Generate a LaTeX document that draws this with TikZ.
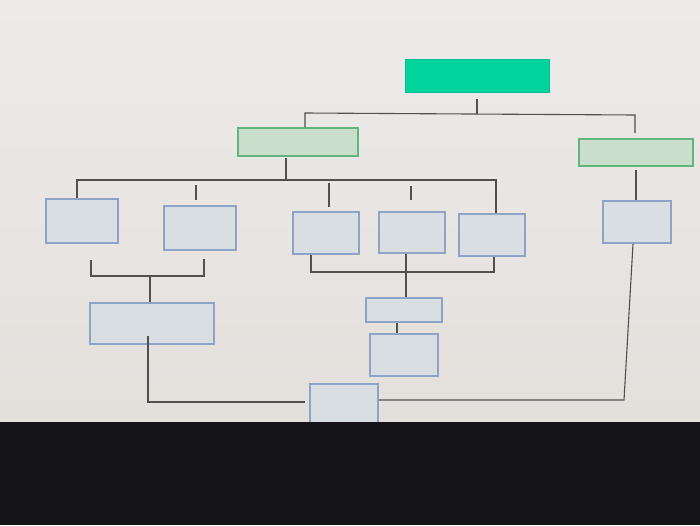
\documentclass[tikz,border=0pt]{standalone}
\usetikzlibrary{shadows}
\begin{document}
\begin{tikzpicture}[x=1pt,y=-1pt,
  box/.style={anchor=north west,inner sep=0pt,line width=1.8pt},
  topbox/.style={box,fill=topgreen,draw=topgreen!92!black,line width=1pt},
  gbox/.style={box,fill=lightgreen,draw=greenedge},
  lbox/.style={box,fill=lightblue,draw=blueedge,
    drop shadow={opacity=0.18,fill=shadowc,shadow xshift=1.5pt,shadow yshift=-1.5pt}},
  conn/.style={draw=linegray,line width=1.1pt}]
\definecolor{topgreen}{HTML}{00D49C}
\definecolor{lightgreen}{HTML}{C9DFCB}
\definecolor{greenedge}{HTML}{62B57C}
\definecolor{lightblue}{HTML}{D8DEE2}
\definecolor{blueedge}{HTML}{8EA3C6}
\definecolor{shadowc}{HTML}{7A6A9A}
\definecolor{linegray}{HTML}{505050}
\definecolor{bgtop}{HTML}{EDEBEA}
\definecolor{bgbot}{HTML}{E3DFDB}
\definecolor{band}{HTML}{141419}
\useasboundingbox (0,0) rectangle (700,525);
\shade[top color=bgtop,bottom color=bgbot] (0,0) rectangle (700,422);
% boxes
\node[topbox,minimum width=144pt,minimum height=33pt] (top) at (405,59) {};
\node[gbox,minimum width=120pt,minimum height=28pt] (g1) at (237,127) {};
\node[gbox,minimum width=114pt,minimum height=27pt] (g2) at (578,138) {};
\node[lbox,minimum width=72pt,minimum height=44pt] (b1) at (45,198) {};
\node[lbox,minimum width=72pt,minimum height=44pt] (b2) at (163,205) {};
\node[lbox,minimum width=66pt,minimum height=42pt] (b3) at (292,211) {};
\node[lbox,minimum width=66pt,minimum height=41pt] (b4) at (378,211) {};
\node[lbox,minimum width=66pt,minimum height=42pt] (b5) at (458,213) {};
\node[lbox,minimum width=68pt,minimum height=42pt] (b6) at (602,200) {};
\node[lbox,minimum width=124pt,minimum height=41pt] (b7) at (89,302) {};
\node[lbox,minimum width=76pt,minimum height=24pt] (b8) at (365,297) {};
\node[lbox,minimum width=68pt,minimum height=42pt] (b9) at (369,333) {};
\node[lbox,minimum width=68pt,minimum height=44pt] (b10) at (309,383) {};
% the dark band cuts the bottom box
\fill[band] (0,422) rectangle (700,525);
% coordinates
\coordinate (t1) at (477,99);
\coordinate (t2) at (477,114);
\coordinate (h1l) at (305,113);
\coordinate (h1r) at (635,115);
\coordinate (g2t) at (635,133);
\coordinate (g1b) at (286,158);
\coordinate (g1h) at (286,180);
\coordinate (h2l) at (77,180);
\coordinate (h2r) at (496,180);
\coordinate (k2a) at (196,185);
\coordinate (k2b) at (196,200);
\coordinate (k3a) at (329,183);
\coordinate (k3b) at (329,207);
\coordinate (k4a) at (411,186);
\coordinate (k4b) at (411,200);
\coordinate (g2b) at (636,170);
\coordinate (bl1) at (91,260);
\coordinate (bl2) at (91,276);
\coordinate (bl3) at (204,276);
\coordinate (bl4) at (204,259);
\coordinate (bm) at (150,276);
\coordinate (br1) at (311,255);
\coordinate (br2) at (311,272);
\coordinate (br3) at (494,272);
\coordinate (br4) at (494,257);
\coordinate (c7) at (148,336);
\coordinate (c7b) at (148,402);
\coordinate (c10l) at (305,402);
\coordinate (c10r) at (624,400);
\coordinate (c6b) at (633,244);
% connectors
\draw[conn] (t1) -- (t2);
\draw[conn] (g1.north -| h1l) -- (h1l) -- (h1r) -- (g2t);
\draw[conn] (g1b) -- (g1h);
\draw[conn] (b1.north -| h2l) -- (h2l) -- (h2r) -- (b5.north -| h2r);
\draw[conn] (k2a) -- (k2b);
\draw[conn] (k3a) -- (k3b);
\draw[conn] (k4a) -- (k4b);
\draw[conn] (g2b) -- (b6.north -| g2b);
\draw[conn] (bl1) -- (bl2) -- (bl3) -- (bl4);
\draw[conn] (bm) -- (b7.north -| bm);
\draw[conn] (br1) -- (br2) -- (br3) -- (br4);
\draw[conn] (b4.south -| 406,0) -- (b8.north -| 406,0);
\draw[conn] (b8.south -| 397,0) -- (b9.north -| 397,0);
\draw[conn] (c7) -- (c7b) -- (c10l);
\draw[conn] (b10.east |- c10r) -- (c10r) -- (c6b);
\end{tikzpicture}
\end{document}
